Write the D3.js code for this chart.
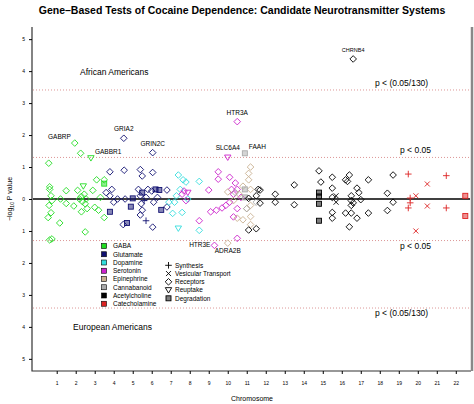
<!DOCTYPE html>
<html><head><meta charset="utf-8">
<script src="https://cdn.jsdelivr.net/npm/d3@7"></script>
<style>body{margin:0;background:#fff}text{font-family:"Liberation Sans",Arial,sans-serif}</style>
</head><body><svg id="chart" width="474" height="404"></svg>
<script>
// [chromosome position, signed -log10 p (+ AA, - EA), type]
// types: R receptor, S synthesis, V vesicular, U reuptake, D degradation
const gaba = [[0.58,1.12,"R"],[1.95,1.75,"R"],[2.26,1.43,"R"],[2.8,1.28,"U"],[0.63,-1.28,"R"],[0.75,-1.25,"R"],
  [1.16,-0.75,"R"],[2.5,-1.03,"R"],[0.55,-0.58,"R"],[0.7,-0.43,"R"],[0.63,0.38,"R"],[0.63,0.3,"R"],[0.7,0.1,"R"],
  [0.75,-0.05,"R"],[0.6,-0.2,"R"],[1.2,0.0,"R"],[1.5,0.26,"R"],[1.5,-0.14,"R"],[1.9,-0.22,"R"],[2.1,0.27,"R"],
  [2.2,0.0,"R"],[2.3,0.08,"R"],[2.35,-0.08,"R"],[2.4,0.4,"U"],[2.45,0.15,"R"],[2.5,-0.15,"R"],[2.55,0.0,"R"],
  [2.6,-0.3,"R"],[2.3,-0.4,"R"],[2.9,0.27,"R"],[3.0,-0.26,"R"],[3.1,0.6,"R"],[3.2,-0.35,"R"],[3.5,0.6,"R"],
  [3.5,0.48,"D"],[3.5,-0.58,"R"],[3.3,0.05,"R"]];
const glutamate = [[4.53,1.9,"R"],[6.05,1.45,"R"],[3.8,0.85,"R"],[4.55,0.9,"R"],[5.4,0.92,"R"],[5.5,0.72,"R"],
  [6.05,0.83,"R"],[3.6,0.2,"R"],[3.8,0.1,"R"],[3.8,-0.4,"D"],[4.5,-0.8,"R"],[4.7,-0.75,"D"],[4.9,-0.24,"D"],
  [5.4,-0.5,"R"],[5.5,-0.35,"R"],[5.7,-0.68,"S"],[6.05,-0.88,"R"],[6.5,-0.34,"D"],[6.8,0.28,"R"],[6.8,-0.25,"R"],
  [4.0,-0.1,"R"],[4.2,0.0,"R"],[4.6,0.0,"R"],[5.0,0.02,"D"],[5.3,0.3,"R"],[5.4,0.1,"R"],[5.45,-0.15,"R"],
  [5.5,0.2,"D"],[5.6,-0.05,"S"],[5.7,0.05,"R"],[6.0,0.25,"R"],[6.1,-0.1,"R"],[6.2,0.3,"D"],[6.3,0.05,"R"],
  [6.4,0.28,"D"],[5.8,0.3,"R"],[3.9,0.3,"R"]];
const dopamine = [[7.4,0.75,"R"],[7.65,0.6,"R"],[7.8,0.53,"R"],[7.5,0.3,"R"],[6.9,-0.1,"R"],[7.1,-0.45,"R"],
  [7.6,-0.42,"R"],[7.4,-0.92,"U"],[8.5,-0.98,"R"],[8.5,0.55,"R"],[7.3,0.1,"R"],[7.2,-0.1,"R"],[7.9,0.0,"R"]];
const serotonin = [[10.5,2.42,"R"],[10.0,1.3,"U"],[9.5,0.85,"R"],[9.5,0.62,"R"],[10.1,0.68,"R"],[10.4,0.5,"R"],
  [10.5,0.3,"R"],[10.3,0.15,"R"],[9.0,0.28,"R"],[9.1,-0.4,"R"],[9.4,-0.35,"R"],[9.7,-0.28,"R"],[9.9,-0.2,"R"],
  [10.1,-0.1,"R"],[10.3,-0.56,"R"],[10.5,-0.3,"R"],[8.5,-0.68,"R"],[9.3,-1.45,"R"],[10.5,-1.23,"R"],
  [7.6,0.15,"R"],[7.7,0.25,"R"],[7.8,-0.05,"R"],[7.9,0.2,"U"],[10.7,0.05,"R"],[10.2,0.3,"R"]];
const epinephrine = [[10.0,-1.38,"R"],[11.2,1.0,"R"],[11.1,0.8,"R"],[11.1,0.6,"R"],[10.8,0.4,"R"],[11.2,0.3,"R"],
  [10.0,0.22,"R"],[10.6,0.15,"R"],[10.5,-0.6,"R"],[10.8,-0.65,"R"],[11.2,-0.55,"R"],[11.2,-0.8,"R"],[11.0,-0.3,"R"],
  [11.2,-0.2,"R"],[10.3,-0.05,"R"]];
const cannabinoid = [[10.9,1.43,"D"],[10.9,0.3,"D"],[10.9,0.05,"D"],[11.5,-0.1,"R"],[11.0,-0.3,"R"],[10.4,0.2,"R"]];
const acetylcholine = [[16.6,4.38,"R"],[11.5,0.1,"R"],[11.6,0.3,"R"],[11.5,-0.93,"R"],[11.7,0.28,"R"],[11.7,-0.13,"R"],
  [11.1,0.02,"R"],[11.1,-0.97,"R"],[12.5,0.15,"R"],[12.5,-0.1,"R"],[13.5,0.44,"R"],[13.5,-0.18,"R"],[14.8,0.88,"R"],
  [14.9,0.53,"R"],[14.8,0.2,"D"],[14.8,0.08,"D"],[14.8,-0.15,"D"],[14.8,-0.68,"D"],[15.5,0.68,"R"],[15.5,0.34,"R"],
  [15.5,0.05,"R"],[15.7,0.1,"V"],[15.7,-0.1,"V"],[15.5,-0.42,"R"],[15.5,-0.6,"R"],[16.2,0.6,"R"],[16.4,0.75,"R"],
  [16.3,0.55,"R"],[16.5,0.1,"R"],[16.5,-0.05,"R"],[16.5,-0.2,"R"],[16.6,-0.12,"R"],[16.2,-0.44,"R"],[16.5,-0.44,"R"],
  [16.4,-0.87,"R"],[16.8,0.34,"R"],[16.9,0.2,"R"],[17.0,-0.02,"R"],[16.8,-0.6,"R"],[17.4,0.6,"R"],[17.4,-0.44,"R"],
  [18.4,0.18,"R"],[18.4,-0.36,"R"],[18.7,0.75,"R"],[18.7,-0.1,"R"]];
const catecholamine = [[19.5,0.78,"S"],[19.6,0.03,"S"],[19.6,-0.12,"S"],[19.5,-0.28,"S"],[20.5,0.47,"V"],
  [19.9,0.1,"V"],[20.5,-0.22,"V"],[19.9,-1.0,"V"],[21.5,0.73,"S"],[21.5,-0.28,"S"],[22.5,0.1,"D"],[22.5,-0.53,"D"]];
const systems = ["GABA","Glutamate","Dopamine","Serotonin","Epinephrine","Cannabanoid","Acetylcholine","Catecholamine"];
const systemColors = ["#22dd22","#101070","#33dddd","#cc22cc","#c8b090","#aaaaaa","#000000","#dd2222"];
const systemData = [gaba,glutamate,dopamine,serotonin,epinephrine,cannabinoid,acetylcholine,catecholamine];
const typeCodes = ["S","V","R","U","D"];
const typeNames = ["Synthesis","Vesicular Transport","Receptors","Reuptake","Degradation"];
// gene labels: [name, chromosome, value, anchor, font size]
const geneLabels = [["CHRNB4",16.6,4.38,"middle",5.5],["GABRP",1.95,1.75,"end",6.5],["GABBR1",2.8,1.28,"start",6.5],
  ["GRIA2",4.53,1.9,"middle",6.5],["GRIN2C",6.05,1.45,"middle",6.5],["HTR3A",10.5,2.42,"middle",6.5],["SLC6A4",10.0,1.3,"middle",6.5],
  ["FAAH",10.9,1.43,"start",6.5],["HTR3E",9.3,-1.45,"end",6.5],["ADRA2B",10.0,-1.38,"middle",6.5]];
const chromosomes = d3.range(1,23);
const yTicks = [-5,-4,-3,-2,-1,0,1,2,3,4,5];
const thresholds = [1.3, 3.41];

const svg = d3.select("#chart");
const x = d3.scaleLinear().domain([-0.3,22.8]).range([32,471]);
const y = d3.scaleLinear().domain([-5.38,5.38]).range([371,27]);

svg.append("text").attr("x",242).attr("y",14).attr("text-anchor","middle")
  .attr("font-size",10.5).attr("font-weight","bold").text("Gene\u2013Based Tests of Cocaine Dependence: Candidate Neurotransmitter Systems");

// frame
svg.append("path").attr("d",`M32,27V371H471`).attr("fill","none").attr("stroke","#333").attr("stroke-width",1.2);
svg.append("line").attr("x1",472).attr("x2",472).attr("y1",27).attr("y2",371).attr("stroke","#888").attr("stroke-width",2.5);

svg.append("g").attr("transform","translate(32,0)")
  .call(d3.axisLeft(y).tickValues(yTicks).tickSize(3).tickFormat(d => Math.abs(d)))
  .call(g => g.select(".domain").remove())
  .call(g => g.selectAll("text").attr("font-size",5).attr("dx",-1));
svg.append("g").attr("transform","translate(0,371)")
  .call(d3.axisBottom(x).tickValues(chromosomes).tickSize(3).tickFormat(d3.format("d")))
  .call(g => g.select(".domain").remove())
  .call(g => g.selectAll("text").attr("font-size",5).attr("dy","1.6em"));

svg.append("text").attr("transform","translate(12,199) rotate(-90)").attr("text-anchor","middle")
  .attr("font-size",7).html('\u2212log<tspan font-size="5" dy="2">10</tspan><tspan dy="-2"> P value</tspan>');
svg.append("text").attr("x",252).attr("y",401).attr("text-anchor","middle").attr("font-size",7).text("Chromosome");

// thresholds
thresholds.forEach(t => [t,-t].forEach(v => svg.append("line").attr("x1",33).attr("x2",470)
  .attr("y1",y(v)).attr("y2",y(v)).attr("stroke","#d88a8a").attr("stroke-width",0.9).attr("stroke-dasharray","1,2")));
svg.append("text").attr("x",375).attr("y",y(3.41)-4).attr("font-size",8.5).text("p < (0.05/130)");
svg.append("text").attr("x",400).attr("y",y(1.3)-4).attr("font-size",8.5).text("p < 0.05");
svg.append("text").attr("x",400).attr("y",y(-1.3)+8).attr("font-size",8.5).text("p < 0.05");
svg.append("text").attr("x",375).attr("y",y(-3.41)+8).attr("font-size",8.5).text("p < (0.05/130)");
svg.append("text").attr("x",80).attr("y",75).attr("font-size",8.5).text("African Americans");
svg.append("text").attr("x",73).attr("y",330).attr("font-size",8.5).text("European Americans");

svg.append("line").attr("x1",33).attr("x2",470).attr("y1",y(0)).attr("y2",y(0)).attr("stroke","#000").attr("stroke-width",1.6);

function drawMark(g, type, cx, cy, col){
  if (type === "R") g.append("path").attr("d",`M${cx},${cy-3.3}L${cx+3.3},${cy}L${cx},${cy+3.3}L${cx-3.3},${cy}Z`)
    .attr("fill","none").attr("stroke",col).attr("stroke-width",0.9);
  else if (type === "S") g.append("path").attr("d",`M${cx-3.3},${cy}H${cx+3.3}M${cx},${cy-3.3}V${cy+3.3}`).attr("stroke",col).attr("stroke-width",0.9);
  else if (type === "V") g.append("path").attr("d",`M${cx-2.5},${cy-2.5}L${cx+2.5},${cy+2.5}M${cx+2.5},${cy-2.5}L${cx-2.5},${cy+2.5}`).attr("stroke",col).attr("stroke-width",0.9);
  else if (type === "U") g.append("path").attr("d",`M${cx-3.2},${cy-2.4}H${cx+3.2}L${cx},${cy+3}Z`).attr("fill","none").attr("stroke",col).attr("stroke-width",0.9);
  else if (type === "D") { g.append("rect").attr("x",cx-2.5).attr("y",cy-2.5).attr("width",5).attr("height",5)
      .attr("fill",col).attr("fill-opacity",0.5).attr("stroke",col).attr("stroke-width",0.9); }
}
const pts = svg.append("g");
systemData.forEach((arr,i) => arr.forEach(d => drawMark(pts, d[2], x(d[0]), y(d[1]), systemColors[i])));

geneLabels.forEach(([name,c,v,anchor,fs]) => {
  const dx = anchor === "end" ? -4 : anchor === "start" ? 4 : 0;
  const dy = v > 0 ? (anchor === "middle" ? -7 : -4) : (anchor === "middle" ? 10 : 2);
  svg.append("text").attr("x",x(c)+dx).attr("y",y(v)+dy).attr("text-anchor",anchor).attr("font-size",fs).text(name);
});

// legends
const leg = svg.append("g");
systems.forEach((s,i) => {
  const yy = 246 + i*8.25;
  leg.append("rect").attr("x",101.5).attr("y",yy-2.5).attr("width",5).attr("height",5)
    .attr("fill",systemColors[i]).attr("stroke","#000").attr("stroke-width",0.6);
  leg.append("text").attr("x",113).attr("y",yy+2.3).attr("font-size",6.5).text(s);
});
typeCodes.forEach((t,i) => {
  const yy = 265.3 + i*8.25;
  drawMark(leg, t, 168.5, yy, "#000");
  leg.append("text").attr("x",175).attr("y",yy+2.3).attr("font-size",6.5).text(typeNames[i]);
});
</script></body></html>
